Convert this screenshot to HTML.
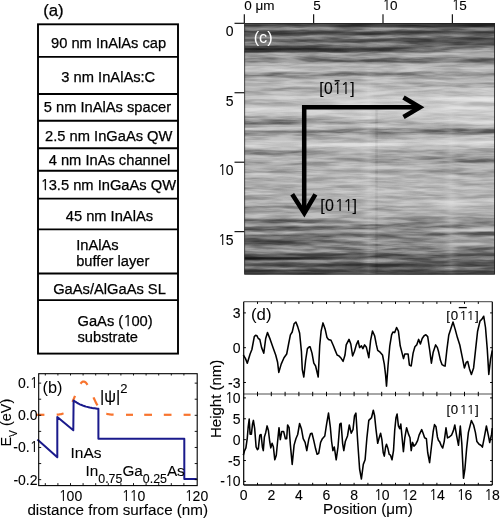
<!DOCTYPE html>
<html><head><meta charset="utf-8"><style>
html,body{margin:0;padding:0;background:#fff;}
svg{display:block;}
text{font-family:"Liberation Sans", Arial, Helvetica, sans-serif;stroke:#000;stroke-width:0.1px;}
.a{stroke-width:0.25px;}
.w{stroke:none;}
</style></head><body>
<svg width="500" height="518" viewBox="0 0 500 518">
<rect width="500" height="518" fill="#fff"/>
<text x="43.2" y="15.7" font-size="16.8" text-anchor="start" fill="#000"  class="a">(a)</text>
<rect x="38" y="24.3" width="140" height="329.3" fill="none" stroke="#000" stroke-width="1.9"/>
<line x1="38" y1="56.9" x2="178" y2="56.9" stroke="#000" stroke-width="1.9" />
<line x1="38" y1="94.0" x2="178" y2="94.0" stroke="#000" stroke-width="1.9" />
<line x1="38" y1="120.8" x2="178" y2="120.8" stroke="#000" stroke-width="1.9" />
<line x1="38" y1="148.3" x2="178" y2="148.3" stroke="#000" stroke-width="1.9" />
<line x1="38" y1="170.7" x2="178" y2="170.7" stroke="#000" stroke-width="1.9" />
<line x1="38" y1="198.6" x2="178" y2="198.6" stroke="#000" stroke-width="1.9" />
<line x1="38" y1="229.4" x2="178" y2="229.4" stroke="#000" stroke-width="1.9" />
<line x1="38" y1="273.5" x2="178" y2="273.5" stroke="#000" stroke-width="1.9" />
<line x1="38" y1="300.1" x2="178" y2="300.1" stroke="#000" stroke-width="1.9" />
<text x="108.6" y="48.2" font-size="14.7" text-anchor="middle" fill="#000"  class="a">90 nm InAlAs cap</text>
<text x="108.3" y="82.1" font-size="14.7" text-anchor="middle" fill="#000"  class="a">3 nm InAlAs:C</text>
<text x="107.4" y="112.3" font-size="14.7" text-anchor="middle" fill="#000"  class="a">5 nm InAlAs spacer</text>
<text x="108.75" y="140.9" font-size="14.7" text-anchor="middle" fill="#000"  class="a">2.5 nm InGaAs QW</text>
<text x="109.5" y="165.1" font-size="14.7" text-anchor="middle" fill="#000"  class="a">4 nm InAs channel</text>
<text x="108.25" y="189.9" font-size="14.7" text-anchor="middle" fill="#000"  class="a"><tspan font-family="NanumGothic, &quot;Liberation Sans&quot;, sans-serif" letter-spacing="-0.73">1</tspan>3.5 nm InGaAs QW</text>
<text x="109.4" y="220.9" font-size="14.7" text-anchor="middle" fill="#000"  class="a">45 nm InAlAs</text>
<text x="109.5" y="293.6" font-size="14.7" text-anchor="middle" fill="#000"  class="a">GaAs/AlGaAs SL</text>
<text x="76.2" y="250.1" font-size="14.7" text-anchor="start" fill="#000"  class="a">InAlAs</text>
<text x="76.2" y="266.3" font-size="14.7" text-anchor="start" fill="#000"  class="a">buffer layer</text>
<text x="77.5" y="325.8" font-size="14.7" text-anchor="start" fill="#000"  class="a">GaAs (<tspan font-family="NanumGothic, &quot;Liberation Sans&quot;, sans-serif" letter-spacing="-0.73">1</tspan>00)</text>
<text x="77.5" y="341.9" font-size="14.7" text-anchor="start" fill="#000"  class="a">substrate</text>
<path d="M36.00,414.80 L36.52,414.80 L37.05,414.80 L37.58,414.80 L38.10,414.80 L38.62,414.80 L39.15,414.80 L39.67,414.80 L40.20,414.80 L40.73,414.80 L41.25,414.80 L41.77,414.80 L42.30,414.80 L42.83,414.80 L43.35,414.80 L43.88,414.80 L44.40,414.80" fill="none" stroke="#F8742E" stroke-width="2.2"/>
<path d="M56.70,414.68 L57.22,414.65 L57.75,414.61 L58.27,414.57 L58.79,414.52 L59.32,414.45 L59.84,414.38 L60.36,414.29 L60.88,414.19 L61.41,414.06 L61.93,413.92 L62.45,413.75 L62.98,413.56 L63.50,413.34" fill="none" stroke="#F8742E" stroke-width="2.2"/>
<path d="M72.50,401.86 L73.00,400.73 L73.50,399.55 L74.00,398.35 L74.50,397.11 L75.00,395.86" fill="none" stroke="#F8742E" stroke-width="2.2"/>
<path d="M80.50,383.76 L81.00,383.09 L81.50,382.52 L82.00,382.08 L82.50,381.76 L83.00,381.56 L83.50,381.50 L84.00,381.55 L84.50,381.71 L85.00,381.98 L85.50,382.35 L86.00,382.82 L86.50,383.38 L87.00,384.03 L87.50,384.77" fill="none" stroke="#F8742E" stroke-width="2.2"/>
<path d="M93.50,397.34 L94.00,398.46 L94.50,399.55 L95.00,400.62 L95.50,401.66 L96.00,402.66 L96.50,403.62 L97.00,404.53 L97.50,405.41" fill="none" stroke="#F8742E" stroke-width="2.2"/>
<path d="M106.30,413.64 L106.82,413.81 L107.34,413.95 L107.86,414.08 L108.39,414.19 L108.91,414.28 L109.43,414.37 L109.95,414.44 L110.47,414.50 L110.99,414.55 L111.51,414.59 L112.04,414.63 L112.56,414.66 L113.08,414.68 L113.60,414.70" fill="none" stroke="#F8742E" stroke-width="2.2"/>
<path d="M126.00,414.80 L126.50,414.80 L127.00,414.80 L127.50,414.80 L128.00,414.80 L128.50,414.80 L129.00,414.80 L129.50,414.80 L130.00,414.80 L130.50,414.80 L131.00,414.80 L131.50,414.80 L132.00,414.80 L132.50,414.80 L133.00,414.80" fill="none" stroke="#F8742E" stroke-width="2.2"/>
<path d="M144.20,414.80 L144.72,414.80 L145.24,414.80 L145.76,414.80 L146.28,414.80 L146.80,414.80 L147.32,414.80 L147.84,414.80 L148.36,414.80 L148.88,414.80 L149.40,414.80 L149.92,414.80 L150.44,414.80 L150.96,414.80 L151.48,414.80 L152.00,414.80" fill="none" stroke="#F8742E" stroke-width="2.2"/>
<path d="M163.80,414.80 L164.31,414.80 L164.83,414.80 L165.34,414.80 L165.85,414.80 L166.37,414.80 L166.88,414.80 L167.39,414.80 L167.91,414.80 L168.42,414.80 L168.93,414.80 L169.45,414.80 L169.96,414.80 L170.47,414.80 L170.99,414.80 L171.50,414.80" fill="none" stroke="#F8742E" stroke-width="2.2"/>
<path d="M183.60,414.80 L184.10,414.80 L184.60,414.80 L185.10,414.80 L185.60,414.80 L186.10,414.80 L186.60,414.80 L187.10,414.80 L187.60,414.80 L188.10,414.80 L188.60,414.80 L189.10,414.80 L189.60,414.80 L190.10,414.80 L190.60,414.80" fill="none" stroke="#F8742E" stroke-width="2.2"/>
<polyline points="37.4,439.5 57.3,457.3 57.3,417.1 73.3,430.3 73.6,400.5 74.8,401.4 76.1,402.2 77.3,403.0 78.6,403.7 79.8,404.3 81.0,404.8 82.3,405.3 83.5,405.8 84.8,406.2 86.0,406.6 87.2,406.9 88.5,407.2 89.7,407.5 91.0,407.7 92.2,408.0 93.4,408.2 94.7,408.3 95.9,408.5 97.2,408.7 98.4,408.8 98.4,438.8 184.3,438.8 184.3,478.9 196.8,478.9" fill="none" stroke="#1A1A8C" stroke-width="2.0" stroke-linejoin="round" stroke-linejoin="miter"/>
<rect x="38.7" y="373.7" width="158.5" height="111.90000000000003" fill="none" stroke="#000" stroke-width="1.1"/>
<line x1="45.3" y1="485.6" x2="45.3" y2="483.1" stroke="#000" stroke-width="0.9" />
<line x1="45.3" y1="373.7" x2="45.3" y2="375.5" stroke="#000" stroke-width="0.9" />
<line x1="57.9" y1="485.6" x2="57.9" y2="483.1" stroke="#000" stroke-width="0.9" />
<line x1="57.9" y1="373.7" x2="57.9" y2="375.5" stroke="#000" stroke-width="0.9" />
<line x1="70.5" y1="485.6" x2="70.5" y2="483.1" stroke="#000" stroke-width="0.9" />
<line x1="70.5" y1="373.7" x2="70.5" y2="375.5" stroke="#000" stroke-width="0.9" />
<line x1="83.1" y1="485.6" x2="83.1" y2="483.1" stroke="#000" stroke-width="0.9" />
<line x1="83.1" y1="373.7" x2="83.1" y2="375.5" stroke="#000" stroke-width="0.9" />
<line x1="95.7" y1="485.6" x2="95.7" y2="483.1" stroke="#000" stroke-width="0.9" />
<line x1="95.7" y1="373.7" x2="95.7" y2="375.5" stroke="#000" stroke-width="0.9" />
<line x1="108.3" y1="485.6" x2="108.3" y2="483.1" stroke="#000" stroke-width="0.9" />
<line x1="108.3" y1="373.7" x2="108.3" y2="375.5" stroke="#000" stroke-width="0.9" />
<line x1="120.9" y1="485.6" x2="120.9" y2="483.1" stroke="#000" stroke-width="0.9" />
<line x1="120.9" y1="373.7" x2="120.9" y2="375.5" stroke="#000" stroke-width="0.9" />
<line x1="133.5" y1="485.6" x2="133.5" y2="483.1" stroke="#000" stroke-width="0.9" />
<line x1="133.5" y1="373.7" x2="133.5" y2="375.5" stroke="#000" stroke-width="0.9" />
<line x1="146.1" y1="485.6" x2="146.1" y2="483.1" stroke="#000" stroke-width="0.9" />
<line x1="146.1" y1="373.7" x2="146.1" y2="375.5" stroke="#000" stroke-width="0.9" />
<line x1="158.7" y1="485.6" x2="158.7" y2="483.1" stroke="#000" stroke-width="0.9" />
<line x1="158.7" y1="373.7" x2="158.7" y2="375.5" stroke="#000" stroke-width="0.9" />
<line x1="171.3" y1="485.6" x2="171.3" y2="483.1" stroke="#000" stroke-width="0.9" />
<line x1="171.3" y1="373.7" x2="171.3" y2="375.5" stroke="#000" stroke-width="0.9" />
<line x1="183.89999999999998" y1="485.6" x2="183.89999999999998" y2="483.1" stroke="#000" stroke-width="0.9" />
<line x1="183.89999999999998" y1="373.7" x2="183.89999999999998" y2="375.5" stroke="#000" stroke-width="0.9" />
<line x1="38.7" y1="479.64" x2="41.2" y2="479.64" stroke="#000" stroke-width="0.9" />
<line x1="197.2" y1="479.64" x2="194.7" y2="479.64" stroke="#000" stroke-width="0.9" />
<line x1="38.7" y1="463.555" x2="41.2" y2="463.555" stroke="#000" stroke-width="0.9" />
<line x1="197.2" y1="463.555" x2="194.7" y2="463.555" stroke="#000" stroke-width="0.9" />
<line x1="38.7" y1="447.47" x2="41.2" y2="447.47" stroke="#000" stroke-width="0.9" />
<line x1="197.2" y1="447.47" x2="194.7" y2="447.47" stroke="#000" stroke-width="0.9" />
<line x1="38.7" y1="431.385" x2="41.2" y2="431.385" stroke="#000" stroke-width="0.9" />
<line x1="197.2" y1="431.385" x2="194.7" y2="431.385" stroke="#000" stroke-width="0.9" />
<line x1="38.7" y1="415.3" x2="41.2" y2="415.3" stroke="#000" stroke-width="0.9" />
<line x1="197.2" y1="415.3" x2="194.7" y2="415.3" stroke="#000" stroke-width="0.9" />
<line x1="38.7" y1="399.21500000000003" x2="41.2" y2="399.21500000000003" stroke="#000" stroke-width="0.9" />
<line x1="197.2" y1="399.21500000000003" x2="194.7" y2="399.21500000000003" stroke="#000" stroke-width="0.9" />
<line x1="38.7" y1="383.13" x2="41.2" y2="383.13" stroke="#000" stroke-width="0.9" />
<line x1="197.2" y1="383.13" x2="194.7" y2="383.13" stroke="#000" stroke-width="0.9" />
<text x="37.5" y="388.13" font-size="14" text-anchor="end" fill="#000" >0.<tspan font-family="NanumGothic, &quot;Liberation Sans&quot;, sans-serif" letter-spacing="-0.70">1</tspan></text>
<text x="37.5" y="420.3" font-size="14" text-anchor="end" fill="#000" >0.0</text>
<text x="37.5" y="452.47" font-size="14" text-anchor="end" fill="#000" >-0.<tspan font-family="NanumGothic, &quot;Liberation Sans&quot;, sans-serif" letter-spacing="-0.70">1</tspan></text>
<text x="37.5" y="484.64" font-size="14" text-anchor="end" fill="#000" >-0.2</text>
<text x="70.5" y="501.4" font-size="14" text-anchor="middle" fill="#000" ><tspan font-family="NanumGothic, &quot;Liberation Sans&quot;, sans-serif" letter-spacing="-0.70">1</tspan>00</text>
<text x="133.5" y="501.4" font-size="14" text-anchor="middle" fill="#000" ><tspan font-family="NanumGothic, &quot;Liberation Sans&quot;, sans-serif" letter-spacing="-0.70">1</tspan><tspan font-family="NanumGothic, &quot;Liberation Sans&quot;, sans-serif" letter-spacing="-0.70">1</tspan>0</text>
<text x="196.5" y="501.4" font-size="14" text-anchor="middle" fill="#000" ><tspan font-family="NanumGothic, &quot;Liberation Sans&quot;, sans-serif" letter-spacing="-0.70">1</tspan>20</text>
<text x="27.4" y="515.2" font-size="15.2" text-anchor="start" fill="#000" >distance from surface (nm)</text>
<text transform="translate(10.8,446.5) rotate(-90)" font-size="14.4">E<tspan font-size="10.3" dy="6">V</tspan><tspan dy="-6"> (eV)</tspan></text>
<text x="42.5" y="392.5" font-size="16.3" text-anchor="start" fill="#000" class="w">(b)</text>
<text x="100" y="402.2" font-size="16.5">|ψ|<tspan font-size="13" dy="-8.9">2</tspan></text>
<text x="70.5" y="457.6" font-size="15.5" text-anchor="start" fill="#000" >InAs</text>
<text x="85.5" y="476.4" font-size="15.3">In<tspan font-size="12.4" dy="7">0.75</tspan><tspan dy="-7">Ga</tspan><tspan font-size="12.4" dy="7">0.25</tspan><tspan dy="-7">As</tspan></text>
<defs>
<linearGradient id="gL" gradientUnits="userSpaceOnUse" x1="0" y1="23.0" x2="0" y2="274.5"><stop offset="0.0038" stop-color="#4c4c4c"/><stop offset="0.0113" stop-color="#4c4c4c"/><stop offset="0.0187" stop-color="#858585"/><stop offset="0.0258" stop-color="#858585"/><stop offset="0.0342" stop-color="#464646"/><stop offset="0.0437" stop-color="#464646"/><stop offset="0.0521" stop-color="#7a7a7a"/><stop offset="0.0592" stop-color="#7a7a7a"/><stop offset="0.0658" stop-color="#5d5d5d"/><stop offset="0.0718" stop-color="#5d5d5d"/><stop offset="0.0789" stop-color="#858585"/><stop offset="0.0873" stop-color="#858585"/><stop offset="0.0934" stop-color="#404040"/><stop offset="0.0974" stop-color="#404040"/><stop offset="0.1019" stop-color="#242424"/><stop offset="0.1069" stop-color="#242424"/><stop offset="0.1108" stop-color="#464646"/><stop offset="0.1138" stop-color="#464646"/><stop offset="0.1201" stop-color="#9c9c9c"/><stop offset="0.1296" stop-color="#9c9c9c"/><stop offset="0.1404" stop-color="#858585"/><stop offset="0.1523" stop-color="#858585"/><stop offset="0.1630" stop-color="#b9b9b9"/><stop offset="0.1726" stop-color="#b9b9b9"/><stop offset="0.1821" stop-color="#c8c8c8"/><stop offset="0.1917" stop-color="#c8c8c8"/><stop offset="0.2012" stop-color="#858585"/><stop offset="0.2107" stop-color="#858585"/><stop offset="0.2219" stop-color="#b1b1b1"/><stop offset="0.2346" stop-color="#b1b1b1"/><stop offset="0.2445" stop-color="#bebebe"/><stop offset="0.2517" stop-color="#bebebe"/><stop offset="0.2600" stop-color="#a2a2a2"/><stop offset="0.2696" stop-color="#a2a2a2"/><stop offset="0.2779" stop-color="#b9b9b9"/><stop offset="0.2851" stop-color="#b9b9b9"/><stop offset="0.2922" stop-color="#c8c8c8"/><stop offset="0.2994" stop-color="#c8c8c8"/><stop offset="0.3078" stop-color="#aeaeae"/><stop offset="0.3173" stop-color="#aeaeae"/><stop offset="0.3256" stop-color="#bebebe"/><stop offset="0.3328" stop-color="#bebebe"/><stop offset="0.3412" stop-color="#d7d7d7"/><stop offset="0.3507" stop-color="#d7d7d7"/><stop offset="0.3590" stop-color="#c3c3c3"/><stop offset="0.3662" stop-color="#c3c3c3"/><stop offset="0.3734" stop-color="#9c9c9c"/><stop offset="0.3805" stop-color="#9c9c9c"/><stop offset="0.3889" stop-color="#7a7a7a"/><stop offset="0.3984" stop-color="#7a7a7a"/><stop offset="0.4068" stop-color="#aeaeae"/><stop offset="0.4139" stop-color="#aeaeae"/><stop offset="0.4199" stop-color="#c3c3c3"/><stop offset="0.4247" stop-color="#c3c3c3"/><stop offset="0.4318" stop-color="#919191"/><stop offset="0.4414" stop-color="#919191"/><stop offset="0.4525" stop-color="#b1b1b1"/><stop offset="0.4652" stop-color="#b1b1b1"/><stop offset="0.4775" stop-color="#cdcdcd"/><stop offset="0.4895" stop-color="#cdcdcd"/><stop offset="0.4978" stop-color="#b3b3b3"/><stop offset="0.5026" stop-color="#b3b3b3"/><stop offset="0.5097" stop-color="#858585"/><stop offset="0.5193" stop-color="#858585"/><stop offset="0.5276" stop-color="#aeaeae"/><stop offset="0.5348" stop-color="#aeaeae"/><stop offset="0.5419" stop-color="#b9b9b9"/><stop offset="0.5491" stop-color="#b9b9b9"/><stop offset="0.5563" stop-color="#9c9c9c"/><stop offset="0.5634" stop-color="#9c9c9c"/><stop offset="0.5706" stop-color="#b9b9b9"/><stop offset="0.5777" stop-color="#b9b9b9"/><stop offset="0.5849" stop-color="#a2a2a2"/><stop offset="0.5920" stop-color="#a2a2a2"/><stop offset="0.6004" stop-color="#bebebe"/><stop offset="0.6099" stop-color="#bebebe"/><stop offset="0.6183" stop-color="#a8a8a8"/><stop offset="0.6254" stop-color="#a8a8a8"/><stop offset="0.6338" stop-color="#b9b9b9"/><stop offset="0.6433" stop-color="#b9b9b9"/><stop offset="0.6517" stop-color="#a2a2a2"/><stop offset="0.6588" stop-color="#a2a2a2"/><stop offset="0.6672" stop-color="#b9b9b9"/><stop offset="0.6767" stop-color="#b9b9b9"/><stop offset="0.6851" stop-color="#a8a8a8"/><stop offset="0.6922" stop-color="#a8a8a8"/><stop offset="0.6986" stop-color="#a2a2a2"/><stop offset="0.7042" stop-color="#a2a2a2"/><stop offset="0.7117" stop-color="#b3b3b3"/><stop offset="0.7213" stop-color="#b3b3b3"/><stop offset="0.7296" stop-color="#919191"/><stop offset="0.7368" stop-color="#919191"/><stop offset="0.7439" stop-color="#a8a8a8"/><stop offset="0.7511" stop-color="#a8a8a8"/><stop offset="0.7606" stop-color="#aeaeae"/><stop offset="0.7726" stop-color="#aeaeae"/><stop offset="0.7833" stop-color="#686868"/><stop offset="0.7928" stop-color="#686868"/><stop offset="0.8000" stop-color="#a8a8a8"/><stop offset="0.8048" stop-color="#a8a8a8"/><stop offset="0.8119" stop-color="#5d5d5d"/><stop offset="0.8215" stop-color="#5d5d5d"/><stop offset="0.8298" stop-color="#9c9c9c"/><stop offset="0.8370" stop-color="#9c9c9c"/><stop offset="0.8465" stop-color="#686868"/><stop offset="0.8584" stop-color="#686868"/><stop offset="0.8692" stop-color="#4c4c4c"/><stop offset="0.8787" stop-color="#4c4c4c"/><stop offset="0.8871" stop-color="#858585"/><stop offset="0.8942" stop-color="#858585"/><stop offset="0.9026" stop-color="#939393"/><stop offset="0.9121" stop-color="#939393"/><stop offset="0.9205" stop-color="#575757"/><stop offset="0.9276" stop-color="#575757"/><stop offset="0.9336" stop-color="#1e1e1e"/><stop offset="0.9384" stop-color="#1e1e1e"/><stop offset="0.9443" stop-color="#6e6e6e"/><stop offset="0.9515" stop-color="#6e6e6e"/><stop offset="0.9586" stop-color="#4c4c4c"/><stop offset="0.9658" stop-color="#4c4c4c"/><stop offset="0.9718" stop-color="#7a7a7a"/><stop offset="0.9765" stop-color="#7a7a7a"/><stop offset="0.9842" stop-color="#404040"/><stop offset="0.9947" stop-color="#404040"/></linearGradient>
<linearGradient id="gM" gradientUnits="userSpaceOnUse" x1="0" y1="23.0" x2="0" y2="274.5"><stop offset="0.0044" stop-color="#353535"/><stop offset="0.0131" stop-color="#353535"/><stop offset="0.0217" stop-color="#858585"/><stop offset="0.0300" stop-color="#858585"/><stop offset="0.0378" stop-color="#404040"/><stop offset="0.0449" stop-color="#404040"/><stop offset="0.0521" stop-color="#858585"/><stop offset="0.0592" stop-color="#858585"/><stop offset="0.0664" stop-color="#525252"/><stop offset="0.0736" stop-color="#525252"/><stop offset="0.0819" stop-color="#858585"/><stop offset="0.0915" stop-color="#858585"/><stop offset="0.1010" stop-color="#3a3a3a"/><stop offset="0.1105" stop-color="#3a3a3a"/><stop offset="0.1213" stop-color="#9c9c9c"/><stop offset="0.1332" stop-color="#9c9c9c"/><stop offset="0.1439" stop-color="#686868"/><stop offset="0.1535" stop-color="#686868"/><stop offset="0.1618" stop-color="#aeaeae"/><stop offset="0.1690" stop-color="#aeaeae"/><stop offset="0.1773" stop-color="#b3b3b3"/><stop offset="0.1869" stop-color="#b3b3b3"/><stop offset="0.1952" stop-color="#858585"/><stop offset="0.2024" stop-color="#858585"/><stop offset="0.2171" stop-color="#b3b3b3"/><stop offset="0.2394" stop-color="#b3b3b3"/><stop offset="0.2565" stop-color="#c3c3c3"/><stop offset="0.2684" stop-color="#c3c3c3"/><stop offset="0.2803" stop-color="#c8c8c8"/><stop offset="0.2922" stop-color="#c8c8c8"/><stop offset="0.3042" stop-color="#d2d2d2"/><stop offset="0.3161" stop-color="#d2d2d2"/><stop offset="0.3274" stop-color="#cdcdcd"/><stop offset="0.3382" stop-color="#cdcdcd"/><stop offset="0.3501" stop-color="#cdcdcd"/><stop offset="0.3632" stop-color="#cdcdcd"/><stop offset="0.3734" stop-color="#d2d2d2"/><stop offset="0.3805" stop-color="#d2d2d2"/><stop offset="0.3889" stop-color="#a2a2a2"/><stop offset="0.3984" stop-color="#a2a2a2"/><stop offset="0.4068" stop-color="#c8c8c8"/><stop offset="0.4139" stop-color="#c8c8c8"/><stop offset="0.4235" stop-color="#858585"/><stop offset="0.4354" stop-color="#858585"/><stop offset="0.4473" stop-color="#aeaeae"/><stop offset="0.4592" stop-color="#aeaeae"/><stop offset="0.4682" stop-color="#b9b9b9"/><stop offset="0.4742" stop-color="#b9b9b9"/><stop offset="0.4801" stop-color="#d7d7d7"/><stop offset="0.4861" stop-color="#d7d7d7"/><stop offset="0.5010" stop-color="#b9b9b9"/><stop offset="0.5249" stop-color="#b9b9b9"/><stop offset="0.5408" stop-color="#969696"/><stop offset="0.5487" stop-color="#969696"/><stop offset="0.5606" stop-color="#b9b9b9"/><stop offset="0.5765" stop-color="#b9b9b9"/><stop offset="0.5875" stop-color="#aeaeae"/><stop offset="0.5934" stop-color="#aeaeae"/><stop offset="0.6083" stop-color="#bababa"/><stop offset="0.6322" stop-color="#bababa"/><stop offset="0.6481" stop-color="#b1b1b1"/><stop offset="0.6561" stop-color="#b1b1b1"/><stop offset="0.6670" stop-color="#bababa"/><stop offset="0.6809" stop-color="#bababa"/><stop offset="0.6998" stop-color="#b3b3b3"/><stop offset="0.7237" stop-color="#b3b3b3"/><stop offset="0.7416" stop-color="#a8a8a8"/><stop offset="0.7535" stop-color="#a8a8a8"/><stop offset="0.7702" stop-color="#aeaeae"/><stop offset="0.7917" stop-color="#aeaeae"/><stop offset="0.8072" stop-color="#6e6e6e"/><stop offset="0.8167" stop-color="#6e6e6e"/><stop offset="0.8250" stop-color="#a5a5a5"/><stop offset="0.8322" stop-color="#a5a5a5"/><stop offset="0.8406" stop-color="#686868"/><stop offset="0.8501" stop-color="#686868"/><stop offset="0.8584" stop-color="#9c9c9c"/><stop offset="0.8656" stop-color="#9c9c9c"/><stop offset="0.8751" stop-color="#8e8e8e"/><stop offset="0.8871" stop-color="#8e8e8e"/><stop offset="0.8990" stop-color="#7a7a7a"/><stop offset="0.9109" stop-color="#7a7a7a"/><stop offset="0.9217" stop-color="#525252"/><stop offset="0.9312" stop-color="#525252"/><stop offset="0.9408" stop-color="#858585"/><stop offset="0.9503" stop-color="#858585"/><stop offset="0.9610" stop-color="#3a3a3a"/><stop offset="0.9730" stop-color="#3a3a3a"/><stop offset="0.9842" stop-color="#575757"/><stop offset="0.9947" stop-color="#575757"/></linearGradient>
<linearGradient id="gR" gradientUnits="userSpaceOnUse" x1="0" y1="23.0" x2="0" y2="274.5"><stop offset="0.0044" stop-color="#292929"/><stop offset="0.0131" stop-color="#292929"/><stop offset="0.0211" stop-color="#6e6e6e"/><stop offset="0.0282" stop-color="#6e6e6e"/><stop offset="0.0348" stop-color="#4c4c4c"/><stop offset="0.0408" stop-color="#4c4c4c"/><stop offset="0.0473" stop-color="#7a7a7a"/><stop offset="0.0545" stop-color="#7a7a7a"/><stop offset="0.0616" stop-color="#464646"/><stop offset="0.0688" stop-color="#464646"/><stop offset="0.0771" stop-color="#4c4c4c"/><stop offset="0.0867" stop-color="#4c4c4c"/><stop offset="0.0950" stop-color="#858585"/><stop offset="0.1022" stop-color="#858585"/><stop offset="0.1093" stop-color="#a2a2a2"/><stop offset="0.1165" stop-color="#a2a2a2"/><stop offset="0.1249" stop-color="#aeaeae"/><stop offset="0.1344" stop-color="#aeaeae"/><stop offset="0.1439" stop-color="#6e6e6e"/><stop offset="0.1535" stop-color="#6e6e6e"/><stop offset="0.1630" stop-color="#a8a8a8"/><stop offset="0.1726" stop-color="#a8a8a8"/><stop offset="0.1821" stop-color="#b9b9b9"/><stop offset="0.1917" stop-color="#b9b9b9"/><stop offset="0.2000" stop-color="#919191"/><stop offset="0.2072" stop-color="#919191"/><stop offset="0.2147" stop-color="#aeaeae"/><stop offset="0.2227" stop-color="#aeaeae"/><stop offset="0.2290" stop-color="#c8c8c8"/><stop offset="0.2338" stop-color="#c8c8c8"/><stop offset="0.2410" stop-color="#9c9c9c"/><stop offset="0.2505" stop-color="#9c9c9c"/><stop offset="0.2600" stop-color="#c8c8c8"/><stop offset="0.2696" stop-color="#c8c8c8"/><stop offset="0.2791" stop-color="#b9b9b9"/><stop offset="0.2887" stop-color="#b9b9b9"/><stop offset="0.2982" stop-color="#e1e1e1"/><stop offset="0.3078" stop-color="#e1e1e1"/><stop offset="0.3173" stop-color="#c3c3c3"/><stop offset="0.3268" stop-color="#c3c3c3"/><stop offset="0.3352" stop-color="#d7d7d7"/><stop offset="0.3423" stop-color="#d7d7d7"/><stop offset="0.3507" stop-color="#cdcdcd"/><stop offset="0.3602" stop-color="#cdcdcd"/><stop offset="0.3698" stop-color="#c8c8c8"/><stop offset="0.3793" stop-color="#c8c8c8"/><stop offset="0.3889" stop-color="#d2d2d2"/><stop offset="0.3984" stop-color="#d2d2d2"/><stop offset="0.4068" stop-color="#aeaeae"/><stop offset="0.4139" stop-color="#aeaeae"/><stop offset="0.4235" stop-color="#6e6e6e"/><stop offset="0.4354" stop-color="#6e6e6e"/><stop offset="0.4477" stop-color="#b9b9b9"/><stop offset="0.4604" stop-color="#b9b9b9"/><stop offset="0.4716" stop-color="#d7d7d7"/><stop offset="0.4811" stop-color="#d7d7d7"/><stop offset="0.4907" stop-color="#b3b3b3"/><stop offset="0.5002" stop-color="#b3b3b3"/><stop offset="0.5121" stop-color="#a8a8a8"/><stop offset="0.5264" stop-color="#a8a8a8"/><stop offset="0.5396" stop-color="#808080"/><stop offset="0.5515" stop-color="#808080"/><stop offset="0.5634" stop-color="#b9b9b9"/><stop offset="0.5753" stop-color="#b9b9b9"/><stop offset="0.5873" stop-color="#9c9c9c"/><stop offset="0.5992" stop-color="#9c9c9c"/><stop offset="0.6111" stop-color="#b9b9b9"/><stop offset="0.6231" stop-color="#b9b9b9"/><stop offset="0.6338" stop-color="#aeaeae"/><stop offset="0.6433" stop-color="#aeaeae"/><stop offset="0.6553" stop-color="#bebebe"/><stop offset="0.6696" stop-color="#bebebe"/><stop offset="0.6831" stop-color="#b1b1b1"/><stop offset="0.6958" stop-color="#b1b1b1"/><stop offset="0.7070" stop-color="#c8c8c8"/><stop offset="0.7165" stop-color="#c8c8c8"/><stop offset="0.7260" stop-color="#b9b9b9"/><stop offset="0.7356" stop-color="#b9b9b9"/><stop offset="0.7475" stop-color="#b3b3b3"/><stop offset="0.7618" stop-color="#b3b3b3"/><stop offset="0.7750" stop-color="#969696"/><stop offset="0.7869" stop-color="#969696"/><stop offset="0.7988" stop-color="#838383"/><stop offset="0.8107" stop-color="#838383"/><stop offset="0.8197" stop-color="#b9b9b9"/><stop offset="0.8256" stop-color="#b9b9b9"/><stop offset="0.8328" stop-color="#6c6c6c"/><stop offset="0.8412" stop-color="#6c6c6c"/><stop offset="0.8501" stop-color="#9f9f9f"/><stop offset="0.8596" stop-color="#9f9f9f"/><stop offset="0.8704" stop-color="#aaaaaa"/><stop offset="0.8823" stop-color="#aaaaaa"/><stop offset="0.8918" stop-color="#717171"/><stop offset="0.8990" stop-color="#717171"/><stop offset="0.9062" stop-color="#808080"/><stop offset="0.9133" stop-color="#808080"/><stop offset="0.9217" stop-color="#636363"/><stop offset="0.9312" stop-color="#636363"/><stop offset="0.9396" stop-color="#747474"/><stop offset="0.9467" stop-color="#747474"/><stop offset="0.9551" stop-color="#464646"/><stop offset="0.9646" stop-color="#464646"/><stop offset="0.9730" stop-color="#6e6e6e"/><stop offset="0.9801" stop-color="#6e6e6e"/><stop offset="0.9878" stop-color="#4c4c4c"/><stop offset="0.9959" stop-color="#4c4c4c"/></linearGradient>
<linearGradient id="mM" gradientUnits="userSpaceOnUse" x1="244.3" y1="0" x2="495.0" y2="0"><stop offset="0.142" stop-color="#000"/><stop offset="0.501" stop-color="#fff"/><stop offset="0.860" stop-color="#000"/></linearGradient>
<linearGradient id="mR" gradientUnits="userSpaceOnUse" x1="244.3" y1="0" x2="495.0" y2="0"><stop offset="0.501" stop-color="#000"/><stop offset="0.860" stop-color="#fff"/></linearGradient>
<mask id="maskM" maskUnits="userSpaceOnUse" x="244.3" y="23.0" width="250.7" height="251.5"><rect x="244.3" y="23.0" width="250.7" height="251.5" fill="url(#mM)"/></mask>
<mask id="maskR" maskUnits="userSpaceOnUse" x="244.3" y="23.0" width="250.7" height="251.5"><rect x="244.3" y="23.0" width="250.7" height="251.5" fill="url(#mR)"/></mask>
</defs>
<rect x="244.3" y="23.0" width="250.7" height="251.5" fill="url(#gL)"/>
<rect x="244.3" y="23.0" width="250.7" height="251.5" fill="url(#gM)" mask="url(#maskM)"/>
<rect x="244.3" y="23.0" width="250.7" height="251.5" fill="url(#gR)" mask="url(#maskR)"/>
<linearGradient id="vb1" x1="0" y1="0" x2="1" y2="0"><stop offset="0" stop-color="#fff" stop-opacity="0"/><stop offset="0.5" stop-color="#fff" stop-opacity="0.13"/><stop offset="1" stop-color="#fff" stop-opacity="0"/></linearGradient>
<linearGradient id="vfade" x1="0" y1="0" x2="0" y2="1"><stop offset="0" stop-color="#fff" stop-opacity="0"/><stop offset="0.25" stop-color="#fff" stop-opacity="1"/><stop offset="1" stop-color="#fff" stop-opacity="1"/></linearGradient>
<rect x="360" y="70" width="17" height="204.5" fill="url(#vb1)"/>
<rect x="443" y="110" width="16" height="164.5" fill="url(#vb1)"/>
<rect x="375.2" y="110" width="2.6" height="164.5" fill="#000" fill-opacity="0.06"/>
<filter id="streak" filterUnits="userSpaceOnUse" x="244.3" y="23.0" width="250.7" height="251.5" color-interpolation-filters="sRGB"><feTurbulence type="fractalNoise" baseFrequency="0.03 0.3" numOctaves="3" seed="7"/><feColorMatrix type="matrix" values="1 0 0 0 0  1 0 0 0 0  1 0 0 0 0  0 0 0 0 1"/><feComponentTransfer><feFuncR type="linear" slope="2.5" intercept="-0.75"/><feFuncG type="linear" slope="2.5" intercept="-0.75"/><feFuncB type="linear" slope="2.5" intercept="-0.75"/></feComponentTransfer></filter>
<rect x="244.3" y="23.0" width="250.7" height="251.5" filter="url(#streak)" style="mix-blend-mode:overlay" opacity="0.25"/>
<rect x="244.70000000000002" y="23.4" width="249.89999999999998" height="250.7" fill="none" stroke="#222" stroke-width="0.8"/>
<line x1="244.3" y1="14.3" x2="244.3" y2="23.0" stroke="#000" stroke-width="1.1" />
<line x1="234.5" y1="23.3" x2="244.3" y2="23.3" stroke="#000" stroke-width="1.1" />
<line x1="313.65" y1="14.3" x2="313.65" y2="23.0" stroke="#000" stroke-width="1.1" />
<line x1="234.5" y1="92.75" x2="244.3" y2="92.75" stroke="#000" stroke-width="1.1" />
<line x1="383.0" y1="14.3" x2="383.0" y2="23.0" stroke="#000" stroke-width="1.1" />
<line x1="234.5" y1="162.20000000000002" x2="244.3" y2="162.20000000000002" stroke="#000" stroke-width="1.1" />
<line x1="452.35" y1="14.3" x2="452.35" y2="23.0" stroke="#000" stroke-width="1.1" />
<line x1="234.5" y1="231.65000000000003" x2="244.3" y2="231.65000000000003" stroke="#000" stroke-width="1.1" />
<text x="244.3" y="9.8" font-size="13.5" text-anchor="start" fill="#000" >0 μm</text>
<text x="313.15" y="9.8" font-size="13.5" text-anchor="start" fill="#000" >5</text>
<text x="382.5" y="9.8" font-size="13.5" text-anchor="start" fill="#000" ><tspan font-family="NanumGothic, &quot;Liberation Sans&quot;, sans-serif" letter-spacing="-0.67">1</tspan>0</text>
<text x="451.85" y="9.8" font-size="13.5" text-anchor="start" fill="#000" ><tspan font-family="NanumGothic, &quot;Liberation Sans&quot;, sans-serif" letter-spacing="-0.67">1</tspan>5</text>
<text x="233.6" y="36.4" font-size="14" text-anchor="end" fill="#000" >0</text>
<text x="233.6" y="105.85" font-size="14" text-anchor="end" fill="#000" >5</text>
<text x="233.6" y="175.3" font-size="14" text-anchor="end" fill="#000" ><tspan font-family="NanumGothic, &quot;Liberation Sans&quot;, sans-serif" letter-spacing="-0.70">1</tspan>0</text>
<text x="233.6" y="244.75000000000003" font-size="14" text-anchor="end" fill="#000" ><tspan font-family="NanumGothic, &quot;Liberation Sans&quot;, sans-serif" letter-spacing="-0.70">1</tspan>5</text>
<text x="253.7" y="43.4" font-size="16.3" text-anchor="start" fill="#fff" class="w">(c)</text>
<path d="M304.2,211.5 L304.2,107.3 L419.5,107.3" fill="none" stroke="#000" stroke-width="4.5" stroke-linejoin="miter"/>
<polyline points="403.5,97.5 420,107.3 403.5,117" fill="none" stroke="#000" stroke-width="4.5" stroke-linejoin="miter" stroke-miterlimit="10"/>
<polyline points="292.2,194.3 304.3,213.2 315.4,194.3" fill="none" stroke="#000" stroke-width="4.5" stroke-linejoin="miter" stroke-miterlimit="10"/>
<text x="319.3 323.9 332.6 340.7 350.3" y="94.3" font-size="15.7" class="k">[0<tspan font-family="NanumGothic, &quot;Liberation Sans&quot;, sans-serif">1</tspan><tspan font-family="NanumGothic, &quot;Liberation Sans&quot;, sans-serif">1</tspan>]</text>
<line x1="334.6" y1="80.8" x2="339.6" y2="80.8" stroke="#000" stroke-width="1.4" />
<text x="320.3 325 334.8 343.2 352.4" y="210.8" font-size="16" class="k">[0<tspan font-family="NanumGothic, &quot;Liberation Sans&quot;, sans-serif">1</tspan><tspan font-family="NanumGothic, &quot;Liberation Sans&quot;, sans-serif">1</tspan>]</text>
<polyline points="243.3,355.0 245.5,358.6 247.3,363.2 250.1,354.0 251.9,349.5 254.3,336.6 255.6,335.2 256.9,335.7 258.3,338.5 259.8,339.4 261.6,347.6 263.8,353.1 265.7,338.5 267.5,332.6 270.2,339.4 273.0,347.6 275.7,355.0 277.6,362.3 278.8,372.4 281.2,364.1 284.0,357.7 286.7,354.0 288.6,344.0 290.4,334.8 292.2,332.0 294.1,323.8 295.9,322.0 297.7,326.6 299.6,333.0 301.4,351.3 302.3,369.6 303.8,377.0 305.6,360.5 307.4,348.6 309.3,346.7 310.1,346.7 312.0,353.1 313.8,363.2 315.6,366.0 316.9,371.5 318.2,377.0 319.7,345.8 321.1,331.2 323.0,322.9 325.2,329.3 327.0,337.6 328.5,339.4 331.0,340.3 333.4,345.8 335.2,350.4 337.1,355.0 338.9,355.9 340.7,357.7 343.1,361.4 345.0,355.0 346.2,344.9 349.0,339.4 350.8,344.0 352.6,355.9 354.5,351.3 356.3,344.9 358.1,340.7 359.6,347.6 361.4,345.8 362.9,348.6 364.6,344.9 366.4,347.3 368.8,357.7 370.6,340.3 372.5,331.0 374.6,335.7 376.4,344.9 377.7,350.4 380.1,352.2 382.5,355.0 384.3,364.1 385.6,375.1 386.5,386.1 388.0,366.0 389.8,345.8 391.6,334.8 392.9,332.1 394.7,332.6 396.6,327.5 398.4,331.2 400.2,345.8 402.1,353.1 403.5,358.6 404.8,354.0 406.6,354.0 408.1,354.0 409.4,365.1 411.2,366.0 413.1,353.1 414.9,346.7 416.7,344.9 418.6,339.4 420.4,344.0 422.2,338.5 424.1,335.7 425.9,334.8 427.7,336.6 429.6,349.5 431.4,363.2 433.2,352.2 435.6,344.9 437.4,347.6 438.7,352.3 440.5,360.6 442.0,364.6 443.8,365.7 445.1,366.1 446.9,349.6 448.8,334.9 450.6,329.4 453.0,322.0 455.2,329.4 457.4,337.6 459.8,345.0 462.2,356.9 464.4,367.9 466.2,362.4 467.7,361.5 469.5,368.9 471.4,374.4 473.6,367.9 475.8,347.7 477.6,331.2 480.0,321.1 481.8,319.3 483.7,316.2 485.5,327.5 487.3,349.6 488.8,374.4 490.6,358.8 492.3,350.5" fill="none" stroke="#000" stroke-width="1.55" stroke-linejoin="round" />
<polyline points="243.3,455.2 244.6,450.6 245.9,447.9 247.3,437.8 248.2,426.8 249.2,419.1 250.1,434.1 251.4,434.1 252.5,424.1 253.4,420.4 254.7,428.7 256.1,447.0 257.4,449.7 258.3,448.8 259.8,435.1 261.1,434.5 262.4,447.0 263.3,450.6 264.4,436.9 265.7,432.7 267.1,425.9 268.4,430.5 269.7,441.5 270.8,447.9 272.1,443.3 273.4,447.0 274.8,459.8 276.3,455.2 277.6,441.5 279.0,427.7 280.3,439.6 281.8,431.4 283.6,431.4 285.4,438.7 286.7,438.7 287.6,425.0 289.1,427.7 290.4,445.1 292.2,464.4 294.1,445.1 295.9,438.7 297.7,434.5 299.6,423.5 301.4,428.7 303.2,438.7 305.1,442.4 306.8,450.6 308.7,439.6 310.5,433.8 312.0,433.2 313.8,440.6 315.6,448.8 317.1,454.3 318.7,453.4 320.6,442.4 322.4,438.7 324.8,436.0 326.6,424.1 328.5,413.1 330.3,426.8 331.6,441.5 332.9,450.6 334.3,447.0 336.2,459.8 338.0,447.0 339.8,424.1 341.1,423.2 342.6,443.3 343.8,450.6 345.3,441.5 347.5,436.0 349.3,425.0 351.2,433.2 353.0,429.6 354.5,415.8 355.9,413.1 357.8,443.3 359.6,469.0 361.4,479.0 363.3,464.4 365.1,459.8 366.9,437.8 368.8,420.4 370.6,418.6 371.5,417.7 373.3,410.3 374.6,415.8 375.9,428.7 377.7,443.3 379.2,437.8 380.6,433.2 381.9,439.6 383.2,452.5 384.3,456.1 385.6,447.0 386.5,444.2 388.0,448.8 389.2,454.3 390.5,455.2 392.0,459.8 393.5,450.6 394.7,430.5 396.0,417.7 397.1,414.0 398.4,425.9 399.7,428.7 400.8,424.1 402.1,437.8 403.4,451.6 404.8,437.8 406.6,427.7 408.5,434.1 410.0,437.8 411.2,450.6 412.5,442.4 414.0,446.1 415.8,444.2 417.6,440.6 419.1,435.1 421.7,429.6 423.1,433.2 424.6,437.8 426.4,438.7 427.7,452.5 429.6,462.6 431.4,447.0 433.2,431.4 434.5,424.6 436.0,426.8 437.4,436.9 438.5,440.5 439.6,441.6 441.1,445.3 442.7,448.0 444.2,441.6 446.0,427.8 447.5,437.9 449.3,437.0 451.5,435.2 453.4,430.6 454.8,425.0 456.7,436.1 458.5,445.3 460.3,426.0 461.8,443.4 463.5,478.3 464.9,469.1 466.6,448.9 468.4,432.4 471.4,420.5 473.6,425.0 475.4,432.4 476.9,441.6 479.1,444.3 480.9,445.3 482.4,447.1 484.2,437.9 486.4,426.0 488.3,435.2 489.7,442.5 491.6,434.2 492.3,428.0" fill="none" stroke="#000" stroke-width="1.55" stroke-linejoin="round" />
<line x1="243.7" y1="301.7" x2="492.3" y2="301.7" stroke="#666" stroke-width="1.3" />
<line x1="243.7" y1="394" x2="492.3" y2="394" stroke="#888" stroke-width="1.5" />
<line x1="243.7" y1="485.0" x2="492.3" y2="485.0" stroke="#000" stroke-width="1.3" />
<line x1="243.7" y1="301.7" x2="243.7" y2="485.0" stroke="#000" stroke-width="1.2" />
<line x1="492.3" y1="301.7" x2="492.3" y2="485.0" stroke="#000" stroke-width="1.2" />
<line x1="257.5" y1="301.7" x2="257.5" y2="303.9" stroke="#000" stroke-width="1" />
<line x1="257.5" y1="391.8" x2="257.5" y2="396.2" stroke="#000" stroke-width="1" />
<line x1="257.5" y1="485.0" x2="257.5" y2="482.8" stroke="#000" stroke-width="1" />
<line x1="271.3" y1="301.7" x2="271.3" y2="303.9" stroke="#000" stroke-width="1" />
<line x1="271.3" y1="391.8" x2="271.3" y2="396.2" stroke="#000" stroke-width="1" />
<line x1="271.3" y1="485.0" x2="271.3" y2="482.8" stroke="#000" stroke-width="1" />
<line x1="285.1" y1="301.7" x2="285.1" y2="303.9" stroke="#000" stroke-width="1" />
<line x1="285.1" y1="391.8" x2="285.1" y2="396.2" stroke="#000" stroke-width="1" />
<line x1="285.1" y1="485.0" x2="285.1" y2="482.8" stroke="#000" stroke-width="1" />
<line x1="298.9" y1="301.7" x2="298.9" y2="303.9" stroke="#000" stroke-width="1" />
<line x1="298.9" y1="391.8" x2="298.9" y2="396.2" stroke="#000" stroke-width="1" />
<line x1="298.9" y1="485.0" x2="298.9" y2="482.8" stroke="#000" stroke-width="1" />
<line x1="312.7" y1="301.7" x2="312.7" y2="303.9" stroke="#000" stroke-width="1" />
<line x1="312.7" y1="391.8" x2="312.7" y2="396.2" stroke="#000" stroke-width="1" />
<line x1="312.7" y1="485.0" x2="312.7" y2="482.8" stroke="#000" stroke-width="1" />
<line x1="326.5" y1="301.7" x2="326.5" y2="303.9" stroke="#000" stroke-width="1" />
<line x1="326.5" y1="391.8" x2="326.5" y2="396.2" stroke="#000" stroke-width="1" />
<line x1="326.5" y1="485.0" x2="326.5" y2="482.8" stroke="#000" stroke-width="1" />
<line x1="340.3" y1="301.7" x2="340.3" y2="303.9" stroke="#000" stroke-width="1" />
<line x1="340.3" y1="391.8" x2="340.3" y2="396.2" stroke="#000" stroke-width="1" />
<line x1="340.3" y1="485.0" x2="340.3" y2="482.8" stroke="#000" stroke-width="1" />
<line x1="354.1" y1="301.7" x2="354.1" y2="303.9" stroke="#000" stroke-width="1" />
<line x1="354.1" y1="391.8" x2="354.1" y2="396.2" stroke="#000" stroke-width="1" />
<line x1="354.1" y1="485.0" x2="354.1" y2="482.8" stroke="#000" stroke-width="1" />
<line x1="367.9" y1="301.7" x2="367.9" y2="303.9" stroke="#000" stroke-width="1" />
<line x1="367.9" y1="391.8" x2="367.9" y2="396.2" stroke="#000" stroke-width="1" />
<line x1="367.9" y1="485.0" x2="367.9" y2="482.8" stroke="#000" stroke-width="1" />
<line x1="381.7" y1="301.7" x2="381.7" y2="303.9" stroke="#000" stroke-width="1" />
<line x1="381.7" y1="391.8" x2="381.7" y2="396.2" stroke="#000" stroke-width="1" />
<line x1="381.7" y1="485.0" x2="381.7" y2="482.8" stroke="#000" stroke-width="1" />
<line x1="395.5" y1="301.7" x2="395.5" y2="303.9" stroke="#000" stroke-width="1" />
<line x1="395.5" y1="391.8" x2="395.5" y2="396.2" stroke="#000" stroke-width="1" />
<line x1="395.5" y1="485.0" x2="395.5" y2="482.8" stroke="#000" stroke-width="1" />
<line x1="409.3" y1="301.7" x2="409.3" y2="303.9" stroke="#000" stroke-width="1" />
<line x1="409.3" y1="391.8" x2="409.3" y2="396.2" stroke="#000" stroke-width="1" />
<line x1="409.3" y1="485.0" x2="409.3" y2="482.8" stroke="#000" stroke-width="1" />
<line x1="423.1" y1="301.7" x2="423.1" y2="303.9" stroke="#000" stroke-width="1" />
<line x1="423.1" y1="391.8" x2="423.1" y2="396.2" stroke="#000" stroke-width="1" />
<line x1="423.1" y1="485.0" x2="423.1" y2="482.8" stroke="#000" stroke-width="1" />
<line x1="436.9" y1="301.7" x2="436.9" y2="303.9" stroke="#000" stroke-width="1" />
<line x1="436.9" y1="391.8" x2="436.9" y2="396.2" stroke="#000" stroke-width="1" />
<line x1="436.9" y1="485.0" x2="436.9" y2="482.8" stroke="#000" stroke-width="1" />
<line x1="450.7" y1="301.7" x2="450.7" y2="303.9" stroke="#000" stroke-width="1" />
<line x1="450.7" y1="391.8" x2="450.7" y2="396.2" stroke="#000" stroke-width="1" />
<line x1="450.7" y1="485.0" x2="450.7" y2="482.8" stroke="#000" stroke-width="1" />
<line x1="464.5" y1="301.7" x2="464.5" y2="303.9" stroke="#000" stroke-width="1" />
<line x1="464.5" y1="391.8" x2="464.5" y2="396.2" stroke="#000" stroke-width="1" />
<line x1="464.5" y1="485.0" x2="464.5" y2="482.8" stroke="#000" stroke-width="1" />
<line x1="478.3" y1="301.7" x2="478.3" y2="303.9" stroke="#000" stroke-width="1" />
<line x1="478.3" y1="391.8" x2="478.3" y2="396.2" stroke="#000" stroke-width="1" />
<line x1="478.3" y1="485.0" x2="478.3" y2="482.8" stroke="#000" stroke-width="1" />
<line x1="243.7" y1="312.9" x2="245.89999999999998" y2="312.9" stroke="#000" stroke-width="1" />
<line x1="492.3" y1="312.9" x2="490.1" y2="312.9" stroke="#000" stroke-width="1" />
<text x="240.5" y="317.9" font-size="14" text-anchor="end" fill="#000" >3</text>
<line x1="243.7" y1="347.7" x2="245.89999999999998" y2="347.7" stroke="#000" stroke-width="1" />
<line x1="492.3" y1="347.7" x2="490.1" y2="347.7" stroke="#000" stroke-width="1" />
<text x="240.5" y="352.7" font-size="14" text-anchor="end" fill="#000" >0</text>
<line x1="243.7" y1="382.5" x2="245.89999999999998" y2="382.5" stroke="#000" stroke-width="1" />
<line x1="492.3" y1="382.5" x2="490.1" y2="382.5" stroke="#000" stroke-width="1" />
<text x="240.5" y="387.5" font-size="14" text-anchor="end" fill="#000" >-3</text>
<line x1="243.7" y1="397.9" x2="245.89999999999998" y2="397.9" stroke="#000" stroke-width="1" />
<line x1="492.3" y1="397.9" x2="490.1" y2="397.9" stroke="#000" stroke-width="1" />
<text x="240.5" y="402.9" font-size="14" text-anchor="end" fill="#000" ><tspan font-family="NanumGothic, &quot;Liberation Sans&quot;, sans-serif" letter-spacing="-0.70">1</tspan>0</text>
<line x1="243.7" y1="418.775" x2="245.89999999999998" y2="418.775" stroke="#000" stroke-width="1" />
<line x1="492.3" y1="418.775" x2="490.1" y2="418.775" stroke="#000" stroke-width="1" />
<text x="240.5" y="423.775" font-size="14" text-anchor="end" fill="#000" >5</text>
<line x1="243.7" y1="439.65" x2="245.89999999999998" y2="439.65" stroke="#000" stroke-width="1" />
<line x1="492.3" y1="439.65" x2="490.1" y2="439.65" stroke="#000" stroke-width="1" />
<text x="240.5" y="444.65" font-size="14" text-anchor="end" fill="#000" >0</text>
<line x1="243.7" y1="460.525" x2="245.89999999999998" y2="460.525" stroke="#000" stroke-width="1" />
<line x1="492.3" y1="460.525" x2="490.1" y2="460.525" stroke="#000" stroke-width="1" />
<text x="240.5" y="465.525" font-size="14" text-anchor="end" fill="#000" >-5</text>
<line x1="243.7" y1="481.4" x2="245.89999999999998" y2="481.4" stroke="#000" stroke-width="1" />
<line x1="492.3" y1="481.4" x2="490.1" y2="481.4" stroke="#000" stroke-width="1" />
<text x="240.5" y="486.4" font-size="14" text-anchor="end" fill="#000" >-<tspan font-family="NanumGothic, &quot;Liberation Sans&quot;, sans-serif" letter-spacing="-0.70">1</tspan>0</text>
<text x="243.7" y="500.3" font-size="14" text-anchor="middle" fill="#000" >0</text>
<text x="271.3" y="500.3" font-size="14" text-anchor="middle" fill="#000" >2</text>
<text x="298.9" y="500.3" font-size="14" text-anchor="middle" fill="#000" >4</text>
<text x="326.5" y="500.3" font-size="14" text-anchor="middle" fill="#000" >6</text>
<text x="354.1" y="500.3" font-size="14" text-anchor="middle" fill="#000" >8</text>
<text x="381.7" y="500.3" font-size="14" text-anchor="middle" fill="#000" ><tspan font-family="NanumGothic, &quot;Liberation Sans&quot;, sans-serif" letter-spacing="-0.70">1</tspan>0</text>
<text x="409.3" y="500.3" font-size="14" text-anchor="middle" fill="#000" ><tspan font-family="NanumGothic, &quot;Liberation Sans&quot;, sans-serif" letter-spacing="-0.70">1</tspan>2</text>
<text x="436.9" y="500.3" font-size="14" text-anchor="middle" fill="#000" ><tspan font-family="NanumGothic, &quot;Liberation Sans&quot;, sans-serif" letter-spacing="-0.70">1</tspan>4</text>
<text x="464.5" y="500.3" font-size="14" text-anchor="middle" fill="#000" ><tspan font-family="NanumGothic, &quot;Liberation Sans&quot;, sans-serif" letter-spacing="-0.70">1</tspan>6</text>
<text x="492.1" y="500.3" font-size="14" text-anchor="middle" fill="#000" ><tspan font-family="NanumGothic, &quot;Liberation Sans&quot;, sans-serif" letter-spacing="-0.70">1</tspan>8</text>
<text x="323" y="513.6" font-size="15.2" text-anchor="start" fill="#000" >Position (μm)</text>
<text transform="translate(221.1,438) rotate(-90)" font-size="15">Height (nm)</text>
<text x="251" y="319.6" font-size="16.8" text-anchor="start" fill="#000" class="w">(d)</text>
<text x="446.3 450.7 459.2 466.4 475.1" y="320.3" font-size="13.3" class="k">[0<tspan font-family="NanumGothic, &quot;Liberation Sans&quot;, sans-serif">1</tspan><tspan font-family="NanumGothic, &quot;Liberation Sans&quot;, sans-serif">1</tspan>]</text>
<line x1="458.8" y1="307.6" x2="466.8" y2="307.6" stroke="#000" stroke-width="1.3" />
<text x="446.5 450.7 459.6 466.8 475.1" y="414.3" font-size="13.3" class="k">[0<tspan font-family="NanumGothic, &quot;Liberation Sans&quot;, sans-serif">1</tspan><tspan font-family="NanumGothic, &quot;Liberation Sans&quot;, sans-serif">1</tspan>]</text>
</svg></body></html>
